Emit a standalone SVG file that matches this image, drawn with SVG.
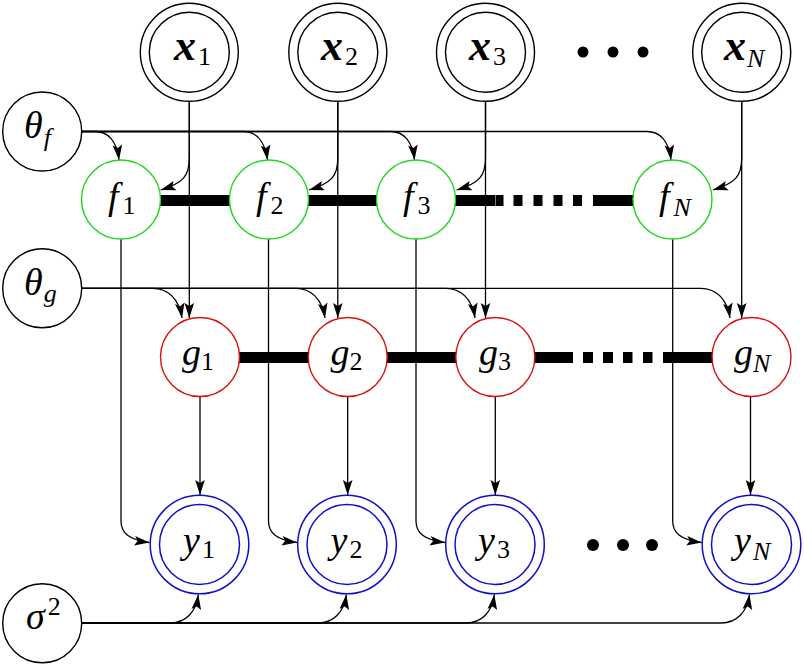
<svg xmlns="http://www.w3.org/2000/svg" width="804" height="665" viewBox="0 0 804 665">
<defs>
<style>
.edge{fill:none;stroke:#000;stroke-width:1.3}
.arr{marker-end:url(#ah)}
.bar{fill:#000}
.blk{fill:#fff;stroke:#000;stroke-width:1.4}
.grn{fill:#fff;stroke:#1ed81e;stroke-width:1.4}
.red{fill:#fff;stroke:#d81010;stroke-width:1.4}
.blu{fill:none;stroke:#1010c8;stroke-width:1.5}
.bluf{fill:#fff;stroke:#1010c8;stroke-width:1.5}
.dot{fill:#000}
</style>
<marker id="ah" markerUnits="userSpaceOnUse" markerWidth="20" markerHeight="12" viewBox="-16 -6 20 12" refX="0" refY="0" orient="auto" overflow="visible">
<path d="M0,0 L-15,-4.8 L-12,0 L-15,4.8 Z" fill="#000"/>
</marker>
</defs>

<g id="bars">
<rect class="bar" x="121" y="195" width="148" height="11"/>
<rect class="bar" x="269" y="195" width="147" height="11"/>
<rect class="bar" x="416" y="195" width="79" height="11"/>
<rect class="bar" x="495.5" y="195" width="8" height="11"/>
<rect class="bar" x="513.5" y="195" width="9" height="11"/>
<rect class="bar" x="533.5" y="195" width="9" height="11"/>
<rect class="bar" x="553.5" y="195" width="9" height="11"/>
<rect class="bar" x="573" y="195" width="9" height="11"/>
<rect class="bar" x="593" y="195" width="80" height="11"/>
<rect class="bar" x="200" y="352" width="148" height="11"/>
<rect class="bar" x="348" y="352" width="147" height="11"/>
<rect class="bar" x="495" y="352" width="78" height="11"/>
<rect class="bar" x="583" y="352" width="10" height="11"/>
<rect class="bar" x="603" y="352" width="10" height="11"/>
<rect class="bar" x="623" y="352" width="9.5" height="11"/>
<rect class="bar" x="643" y="352" width="9.5" height="11"/>
<rect class="bar" x="663" y="352" width="89" height="11"/>
</g>

<g id="connectors">
<path class="edge arr" d="M81.5,131.5 H95 C108,131.5 117,141 119,160"/>
<path class="edge arr" d="M81.5,131.5 H243 C256,131.5 265,141 267.5,160"/>
<path class="edge arr" d="M81.5,131.5 H390.5 C403.5,131.5 412.5,141 414.5,160"/>
<path class="edge arr" d="M81.5,131.5 H647 C660,131.5 669,141 671,160"/>
<path class="edge arr" d="M189.3,101 V158 C189.3,176 183.3,183 160.7,190"/>
<path class="edge arr" d="M337.8,101 V158 C337.8,176 331.8,183 309,190"/>
<path class="edge arr" d="M485.5,101 V158 C485.5,176 479.5,183 456.7,190"/>
<path class="edge arr" d="M741.7,101 V158 C741.7,176 735.7,183 712.9,190"/>
<path class="edge arr" d="M189.3,101 V318"/>
<path class="edge arr" d="M337.8,101 V318"/>
<path class="edge arr" d="M485.5,101 V318"/>
<path class="edge arr" d="M741.7,101 V318"/>
<path class="edge arr" d="M81.5,288.3 H153 C167,288.3 179,298 182,318"/>
<path class="edge arr" d="M81.5,288.3 H296 C310,288.3 322,298 325,318"/>
<path class="edge arr" d="M81.5,288.3 H446 C460,288.3 472,298 475,318"/>
<path class="edge arr" d="M81.5,288.3 H701 C715,288.3 727,298 730,318"/>
<path class="edge arr" d="M121,239 V521 C121,533 129,540 149.5,542.5"/>
<path class="edge arr" d="M268.5,239 V521 C268.5,533 276.5,540 297,542.5"/>
<path class="edge arr" d="M416,239 V521 C416,533 424,540 445,542.5"/>
<path class="edge arr" d="M672.7,239 V521 C672.7,533 680.7,540 701.7,542.5"/>
<path class="edge arr" d="M200,397 V495"/>
<path class="edge arr" d="M347.7,397 V495"/>
<path class="edge arr" d="M495.3,397 V495"/>
<path class="edge arr" d="M750.5,397 V495"/>
<path class="edge arr" d="M81.5,623 H170 C186,623 196,612 198.3,594.5"/>
<path class="edge arr" d="M81.5,623 H318 C334,623 344,612 346.3,594.5"/>
<path class="edge arr" d="M81.5,623 H466 C482,623 492,612 494.3,594.5"/>
<path class="edge arr" d="M81.5,623 H721 C737,623 747,612 749.5,594.5"/>
</g>

<g font-family="Liberation Serif, Times New Roman, DejaVu Serif, serif" font-style="italic" font-size="38" fill="#000">
<g id="theta_f"><circle class="blk" cx="42.2" cy="131.5" r="39.5"/><text x="24" y="138">θ<tspan font-size="26" dy="8" dx="1">f</tspan></text></g>
<g id="theta_g"><circle class="blk" cx="42.2" cy="288.3" r="39.5"/><text x="24" y="295">θ<tspan font-size="26" dy="7" dx="1">g</tspan></text></g>
<g id="sigma2"><circle class="blk" cx="42.2" cy="623.3" r="39.5"/><text x="26" y="628.5">σ<tspan font-size="26" font-style="normal" dy="-14" dx="3">2</tspan></text></g>

<g id="x1"><circle class="blk" cx="189.3" cy="52.3" r="49"/><circle class="blk" cx="189.3" cy="52.3" r="40"/><text x="174" y="60" font-weight="bold" font-size="44">x<tspan font-size="26" font-weight="normal" font-style="normal" dy="5" dx="2">1</tspan></text></g>
<g id="x2"><circle class="blk" cx="337.8" cy="52.3" r="49"/><circle class="blk" cx="337.8" cy="52.3" r="40"/><text x="321" y="60" font-weight="bold" font-size="44">x<tspan font-size="26" font-weight="normal" font-style="normal" dy="5" dx="2">2</tspan></text></g>
<g id="x3"><circle class="blk" cx="485.5" cy="52.3" r="49"/><circle class="blk" cx="485.5" cy="52.3" r="40"/><text x="469" y="60" font-weight="bold" font-size="44">x<tspan font-size="26" font-weight="normal" font-style="normal" dy="5" dx="2">3</tspan></text></g>
<g id="xN"><circle class="blk" cx="741.7" cy="52.3" r="49"/><circle class="blk" cx="741.7" cy="52.3" r="40"/><text x="724" y="60" font-weight="bold" font-size="44">x<tspan font-size="26" font-weight="normal" dy="7" dx="1">N</tspan></text></g>
<g id="dots_top"><circle class="dot" cx="583" cy="52" r="5.5"/><circle class="dot" cx="613" cy="52" r="5.5"/><circle class="dot" cx="643" cy="52" r="5.5"/></g>

<g id="f1"><circle class="grn" cx="121" cy="199.5" r="39.5"/><text x="108" y="209">f<tspan font-size="26" font-style="normal" dy="5" dx="4">1</tspan></text></g>
<g id="f2"><circle class="grn" cx="269" cy="199.5" r="39.5"/><text x="256" y="209">f<tspan font-size="26" font-style="normal" dy="5" dx="4">2</tspan></text></g>
<g id="f3"><circle class="grn" cx="416" cy="199.5" r="39.5"/><text x="403" y="209">f<tspan font-size="26" font-style="normal" dy="5" dx="4">3</tspan></text></g>
<g id="fN"><circle class="grn" cx="672.5" cy="199.5" r="39.5"/><text x="659" y="209">f<tspan font-size="26" dy="7" dx="4">N</tspan></text></g>

<g id="g1"><circle class="red" cx="200" cy="357" r="39.5"/><text x="182" y="365">g<tspan font-size="26" font-style="normal" dy="5">1</tspan></text></g>
<g id="g2"><circle class="red" cx="347.7" cy="357" r="39.5"/><text x="330.5" y="365">g<tspan font-size="26" font-style="normal" dy="5">2</tspan></text></g>
<g id="g3"><circle class="red" cx="495.3" cy="357" r="39.5"/><text x="479" y="365">g<tspan font-size="26" font-style="normal" dy="5">3</tspan></text></g>
<g id="gN"><circle class="red" cx="751.5" cy="357" r="39.5"/><text x="734" y="365">g<tspan font-size="26" dy="7">N</tspan></text></g>

<g id="y1"><circle class="bluf" cx="199.5" cy="544.5" r="49.3"/><circle class="blu" cx="199.5" cy="544.5" r="40"/><text x="183" y="553">y<tspan font-size="26" font-style="normal" dy="5" dx="2">1</tspan></text></g>
<g id="y2"><circle class="bluf" cx="347" cy="544.5" r="49.3"/><circle class="blu" cx="347" cy="544.5" r="40"/><text x="330.5" y="553">y<tspan font-size="26" font-style="normal" dy="5" dx="2">2</tspan></text></g>
<g id="y3"><circle class="bluf" cx="495" cy="544.5" r="49.3"/><circle class="blu" cx="495" cy="544.5" r="40"/><text x="478" y="553">y<tspan font-size="26" font-style="normal" dy="5" dx="2">3</tspan></text></g>
<g id="yN"><circle class="bluf" cx="751.5" cy="544.5" r="49.3"/><circle class="blu" cx="751.5" cy="544.5" r="40"/><text x="734" y="553">y<tspan font-size="26" dy="7" dx="2">N</tspan></text></g>
<g id="dots_bottom"><circle class="dot" cx="593" cy="545" r="6"/><circle class="dot" cx="623" cy="545" r="6"/><circle class="dot" cx="652" cy="545" r="6"/></g>
</g>
</svg>
